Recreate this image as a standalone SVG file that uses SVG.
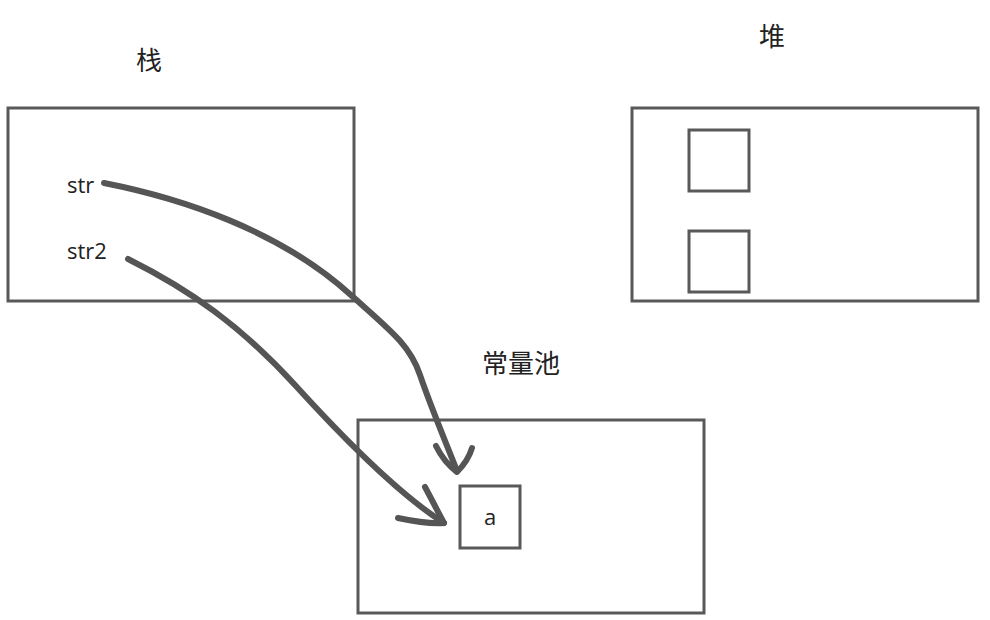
<svg xmlns="http://www.w3.org/2000/svg" width="990" height="620" viewBox="0 0 990 620">
<style>
.box{fill:none;stroke:#595959;stroke-width:3}
.lbl{font-family:"Noto Sans CJK SC","Noto Sans",sans-serif;font-size:26px;fill:#222}
.var{font-family:"Open Sans","Noto Sans",sans-serif;font-size:22px;fill:#222}
.ink{fill:none;stroke:#555;stroke-width:6;stroke-linecap:round;stroke-linejoin:round}
</style>
<rect width="990" height="620" fill="#fff"/>
<g id="stack">
<rect class="box" x="8" y="108" width="346" height="193"/>
<text class="lbl" x="149" y="70" text-anchor="middle">栈</text>
<text class="var" x="67" y="193">str</text>
<text class="var" x="67" y="259">str2</text>
</g>
<g id="heap">
<rect class="box" x="632" y="108" width="346" height="193"/>
<text class="lbl" x="772" y="46" text-anchor="middle">堆</text>
<rect class="box" x="689" y="130" width="60" height="61"/>
<rect class="box" x="689" y="231" width="60" height="61"/>
</g>
<g id="pool">
<rect class="box" x="358" y="420" width="346" height="193"/>
<text class="lbl" x="521" y="373" text-anchor="middle">常量池</text>
<rect class="box" x="460" y="486" width="60" height="62"/>
<text class="var" x="490" y="525" text-anchor="middle">a</text>
</g>
<g id="connectors">
<path class="ink" d="M104,183 C180,198 280,230 352,296 C390,330 410,345 420,375 C432,410 445,440 457,471"/>
<path class="ink" d="M436,446 C442,458 449,466 457,472 C463,466 469,458 472,448"/>
<path class="ink" d="M128,259 C190,290 240,325 295,385 C345,440 400,495 444,523"/>
<path class="ink" d="M425,487 C432,500 438,512 444,523 C430,524 412,521 398,518"/>
</g>
</svg>
